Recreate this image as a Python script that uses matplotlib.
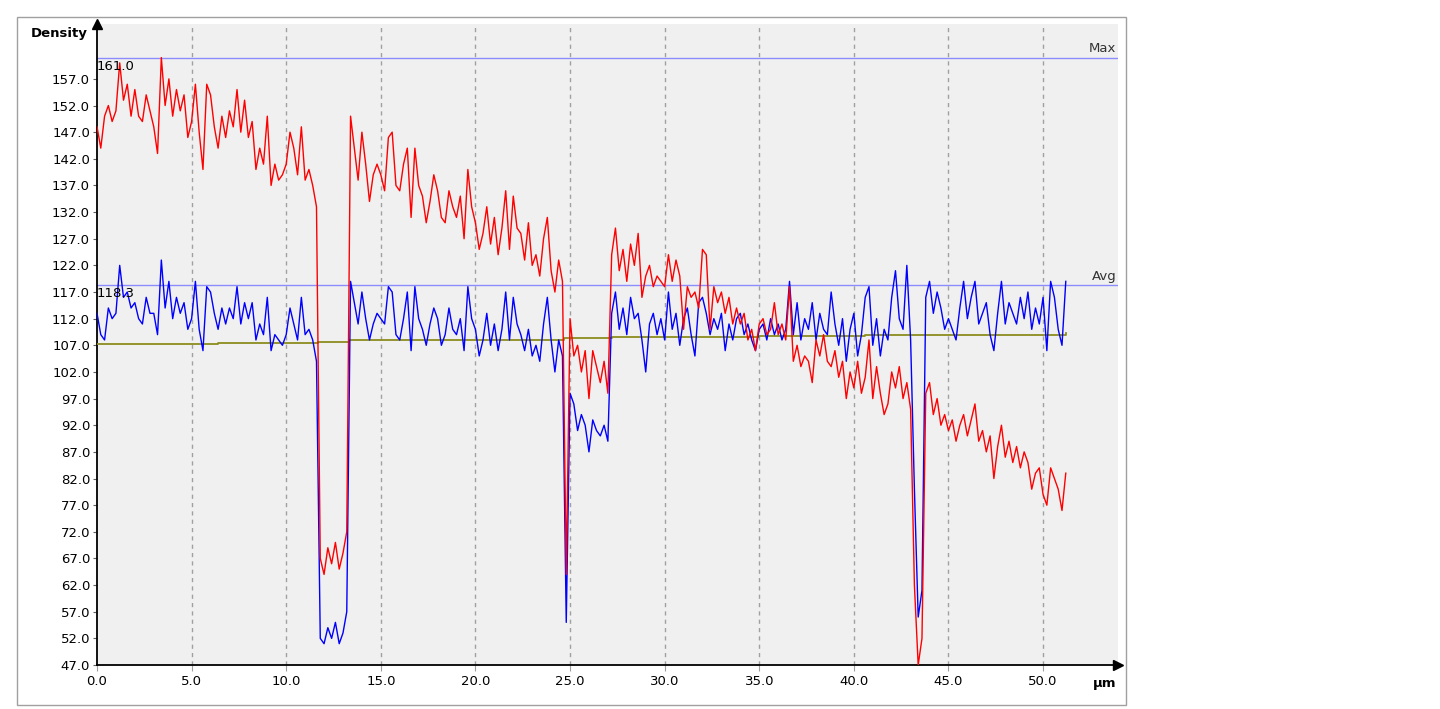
import numpy as np
import matplotlib.pyplot as plt
from matplotlib.patches import Rectangle

# density profile, one value every 0.2 um
step = 0.2
red_density = [
    148, 144, 150, 152, 149,  151, 160, 153, 156, 150,
    155, 150, 149, 154, 151,  148, 143, 161, 152, 157,
    150, 155, 151, 154, 146,  149, 156, 147, 140, 156,
    154, 148, 144, 150, 146,  151, 148, 155, 147, 153,
    146, 149, 140, 144, 141,  150, 137, 141, 138, 139,
    141, 147, 144, 139, 148,  138, 140, 137, 133, 67,
    64, 69, 66, 70, 65,       68, 72, 150, 144, 138,
    147, 141, 134, 139, 141,  139, 136, 146, 147, 137,
    136, 141, 144, 131, 144,  137, 135, 130, 134, 139,
    136, 131, 130, 136, 133,  131, 135, 127, 140, 133,
    130, 125, 128, 133, 126,  131, 124, 129, 136, 125,
    135, 129, 128, 123, 130,  122, 124, 120, 127, 131,
    121, 117, 123, 119, 64,   112, 105, 107, 102, 106,
    97, 106, 103, 100, 104,   98, 124, 129, 121, 125,
    119, 126, 122, 128, 116,  120, 122, 118, 120, 119,
    118, 124, 119, 123, 120,  110, 118, 116, 117, 114,
    125, 124, 110, 118, 115,  117, 113, 116, 111, 114,
    111, 113, 108, 110, 106,  111, 112, 109, 110, 115,
    109, 111, 108, 118, 104,  107, 103, 105, 104, 100,
    108, 105, 109, 104, 103,  106, 101, 104, 97, 102,
    99, 104, 98, 101, 108,    97, 103, 98, 94, 96,
    102, 99, 103, 97, 100,    95, 62, 47, 52, 98,
    100, 94, 97, 92, 94,      91, 93, 89, 92, 94,
    90, 93, 96, 89, 91,       87, 90, 82, 88, 92,
    86, 89, 85, 88, 84,       87, 85, 80, 83, 84,
    79, 77, 84, 82, 80,       76, 83,
]
blue_density = [
    113, 109, 108, 114, 112,  113, 122, 116, 117, 114,
    115, 112, 111, 116, 113,  113, 109, 123, 114, 119,
    112, 116, 113, 115, 110,  112, 119, 110, 106, 118,
    117, 113, 110, 114, 111,  114, 112, 118, 111, 115,
    112, 115, 108, 111, 109,  116, 106, 109, 108, 107,
    109, 114, 111, 108, 116,  109, 110, 108, 104, 52,
    51, 54, 52, 55, 51,       53, 57, 119, 115, 111,
    117, 112, 108, 111, 113,  112, 111, 118, 117, 109,
    108, 112, 117, 106, 118,  112, 110, 107, 111, 114,
    112, 107, 109, 114, 110,  109, 112, 106, 118, 112,
    110, 105, 108, 113, 107,  111, 106, 110, 117, 108,
    116, 111, 109, 106, 110,  105, 107, 104, 111, 116,
    108, 102, 108, 105, 55,   98, 96, 91, 94, 92,
    87, 93, 91, 90, 92,       89, 113, 117, 110, 114,
    109, 116, 112, 113, 108,  102, 111, 113, 109, 112,
    108, 117, 110, 113, 107,  112, 114, 109, 105, 115,
    116, 113, 109, 112, 110,  113, 106, 111, 108, 112,
    113, 109, 111, 108, 106,  110, 111, 108, 112, 109,
    111, 108, 110, 119, 109,  115, 108, 112, 110, 115,
    108, 113, 110, 109, 117,  111, 107, 112, 104, 110,
    113, 105, 109, 116, 118,  107, 112, 105, 110, 108,
    116, 121, 112, 110, 122,  108, 80, 56, 61, 116,
    119, 113, 117, 114, 110,  112, 110, 108, 114, 119,
    112, 116, 119, 111, 113,  115, 109, 106, 113, 119,
    111, 115, 113, 111, 116,  112, 117, 110, 114, 111,
    116, 106, 119, 116, 110,  107, 119,
]
assert len(red_density) == len(blue_density)

# olive running line (steps)
trend_x = [0.0, 6.4, 11.7, 13.3, 24.7, 27.2, 35.0, 40.6, 51.2]
trend_y = [107.2, 107.5, 107.7, 108.0, 108.3, 108.5, 108.7, 109.0, 109.3]

max_value = 161.0
avg_value = 118.3
x_ticks = np.arange(0, 51, 5)
y_ticks = np.arange(47, 158, 5)

x = np.arange(len(red_density)) * step

plt.rcParams['font.family'] = 'DejaVu Sans'
plt.rcParams['font.size'] = 9.5

W, H = 1440, 709
fig = plt.figure(figsize=(W / 100, H / 100), dpi=100)
fig.patches.append(Rectangle((17 / W, 4 / H), 1109 / W, 688 / H, transform=fig.transFigure,
                             fill=False, edgecolor='#a0a0a0', lw=1))

ax = fig.add_axes([97 / W, 44 / H, 1021 / W, 641 / H])
ax.set_facecolor('#f0f0f0')
ax.set_xlim(0, 53.96)
ax.set_ylim(47, 167.3)

for t in x_ticks[1:]:
    ax.axvline(t, color='#a0a0a0', lw=1, ls=(0, (3, 3)), zorder=1)

ax.axhline(max_value, color='#8c8cff', lw=1, zorder=2)
ax.axhline(avg_value, color='#8c8cff', lw=1, zorder=2)

ax.step(trend_x, trend_y, where='post', color='#8c8c1e', lw=1.3, zorder=3)
ax.plot(x, blue_density, color='#0000ff', lw=1.0, zorder=4)
ax.plot(x, red_density, color='#ff0000', lw=1.0, zorder=5)

ax.annotate('%.1f' % max_value, xy=(0, max_value), xytext=(0, -1.5), textcoords='offset points',
            ha='left', va='top', zorder=6)
ax.annotate('%.1f' % avg_value, xy=(0, avg_value), xytext=(0, -1.5), textcoords='offset points',
            ha='left', va='top', zorder=6)
ax.annotate('Max', xy=(1, max_value), xycoords=('axes fraction', 'data'), xytext=(-1, 1.5),
            textcoords='offset points', ha='right', va='bottom', color='#333333')
ax.annotate('Avg', xy=(1, avg_value), xycoords=('axes fraction', 'data'), xytext=(-1, 1.5),
            textcoords='offset points', ha='right', va='bottom', color='#333333')

for s in ['top', 'right']:
    ax.spines[s].set_visible(False)
for s in ['left', 'bottom']:
    ax.spines[s].set_color('black')
    ax.spines[s].set_linewidth(1.3)
ax.plot(1, 0, '>k', transform=ax.transAxes, clip_on=False, markersize=7)
ax.plot(0, 1, '^k', transform=ax.transAxes, clip_on=False, markersize=7)

ax.set_xticks(x_ticks)
ax.set_xticklabels(['%.1f' % t for t in x_ticks])
ax.set_yticks(y_ticks)
ax.set_yticklabels(['%.1f' % t for t in y_ticks])
ax.tick_params(axis='x', length=4, color='#a0a0a0', pad=3)
ax.tick_params(axis='y', length=3, color='#606060', pad=2)

fig.text(88 / W, 1 - 33 / H, 'Density', ha='right', va='center', weight='bold')
fig.text(1116 / W, 1 - 684 / H, 'µm', ha='right', va='center', weight='bold')

fig.savefig('out.png', dpi=100)
